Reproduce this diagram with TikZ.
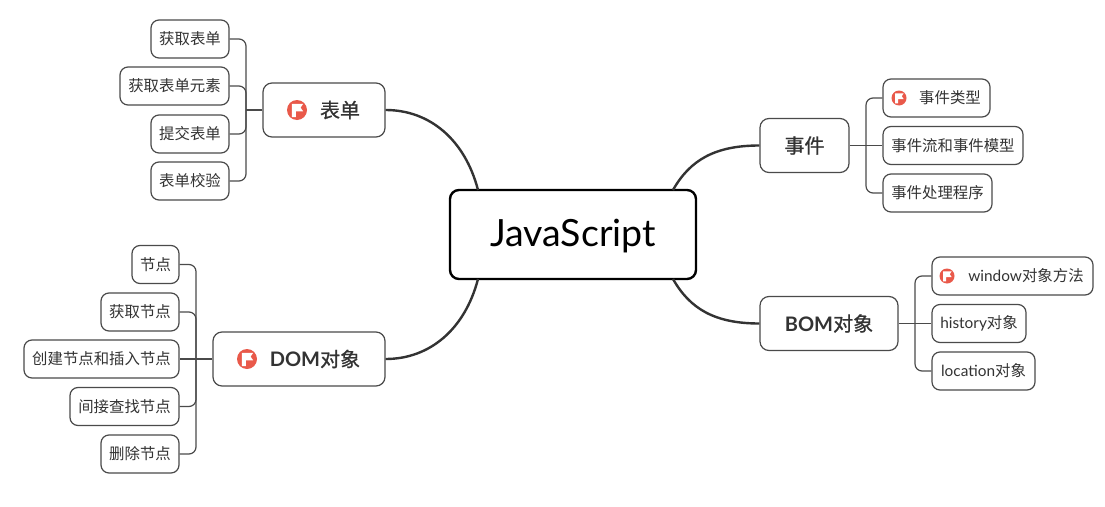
\documentclass[tikz,border=0pt]{standalone}
\usepackage{fontspec}
\setmainfont{Lato}
\newfontfamily\cjk{Noto Sans CJK SC}
\newfontfamily\cjkplain[RawFeature={embolden=0.9}]{Noto Sans CJK SC}
\newcommand{\cjkmain}{\mdseries\cjkplain}
\definecolor{inkgrey}{HTML}{333333}
\definecolor{edgegrey}{HTML}{4A4A4A}
\definecolor{flagred}{HTML}{E9594A}
\tikzset{
  rootbox/.style={draw=black,fill=white,line width=2.4pt,rounded corners=9pt,inner sep=0pt,
    text=black,text height=31pt,text depth=7pt,font=\fontsize{37.5}{42}\selectfont},
  mainbox/.style={draw=edgegrey,fill=white,line width=1.2pt,rounded corners=9pt,inner sep=0pt,
    minimum height=54pt,text=inkgrey,font=\fontsize{20}{24}\selectfont\bfseries},
  subbox/.style={draw=edgegrey,fill=white,line width=1.2pt,rounded corners=8pt,inner sep=0pt,
    minimum height=38pt,text=inkgrey,font=\fontsize{15.4}{18}\selectfont},
  bigcurve/.style={draw=inkgrey,line width=2.4pt},
  branch/.style={draw=edgegrey,line width=1.2pt,rounded corners=7pt},
  flagicon/.pic={
    \fill[flagred] (0,0) circle (1);
    \fill[white] (-0.52,0.72) -- (-0.52,-0.62) -- (0.62,-0.62) -- (0.36,-0.24) -- (0.62,0.14) -- (-0.12,0.14) -- (-0.12,0.72) -- cycle;
  }
}
\begin{document}
\begin{tikzpicture}[x=1pt,y=-1pt]
  \useasboundingbox[fill=white] (0,0) rectangle (1105,506);

  % centre
  \node[rootbox,minimum width=246pt,minimum height=89pt] (js) at (573,234.5) {JavaScript};
  \coordinate (jsnw) at (478,190);
  \coordinate (jsne) at (673,190);
  \coordinate (jssw) at (478,279);
  \coordinate (jsse) at (673,279);

  % main topics
  \node[mainbox,minimum width=122pt] (form) at (324,110) {\hspace*{32pt}{\cjkmain 表单}};
  \node[mainbox,minimum width=172pt] (dom)  at (299,359) {\hspace*{32pt}DOM{\cjkmain 对象}};
  \node[mainbox,minimum width=89pt]  (event) at (804.5,145.5) {{\cjkmain 事件}};
  \node[mainbox,minimum width=138pt] (bom)  at (829,323.5) {BOM{\cjkmain 对象}};

  \pic[scale=10] at (297,110) {flagicon};
  \pic[scale=10] at (247,359) {flagicon};

  % form items
  \node[subbox,minimum width=78pt]  (form1) at (190,39)    {\cjk 获取表单};
  \node[subbox,minimum width=109pt] (form2) at (174.5,86)  {\cjk 获取表单元素};
  \node[subbox,minimum width=78pt]  (form3) at (190,134)   {\cjk 提交表单};
  \node[subbox,minimum width=78pt]  (form4) at (190,181)   {\cjk 表单校验};

  % dom items
  \node[subbox,minimum width=47pt]  (dom1) at (155.5,264.5) {\cjk 节点};
  \node[subbox,minimum width=78pt]  (dom2) at (140,312)     {\cjk 获取节点};
  \node[subbox,minimum width=155pt] (dom3) at (101.5,359)   {\cjk 创建节点和插入节点};
  \node[subbox,minimum width=109pt] (dom4) at (124.5,406.5) {\cjk 间接查找节点};
  \node[subbox,minimum width=78pt]  (dom5) at (140,454)     {\cjk 删除节点};

  % event items
  \node[subbox,minimum width=107pt] (event1) at (936.5,98)  {\hspace*{27pt}{\cjk 事件类型}};
  \node[subbox,minimum width=140pt] (event2) at (953,145.5) {\cjk 事件流和事件模型};
  \node[subbox,minimum width=109pt] (event3) at (937.5,193) {\cjk 事件处理程序};
  \pic[scale=7.5] at (899,98) {flagicon};

  % bom items
  \node[subbox,minimum width=161pt] (bom1) at (1012.5,276) {\hspace*{27pt}window{\cjk 对象方法}};
  \node[subbox,minimum width=94pt]  (bom2) at (979,323.5)  {history{\cjk 对象}};
  \node[subbox,minimum width=103pt] (bom3) at (983.5,371)  {location{\cjk 对象}};
  \pic[scale=7.5] at (947,276) {flagicon};

  % curves to the centre
  \draw[bigcurve] (form.east)  .. controls (430,110) and (465,140) .. (jsnw);
  \draw[bigcurve] (dom.east)   .. controls (430,359) and (465,329) .. (jssw);
  \draw[bigcurve] (event.west) .. controls (715,145.5) and (690,160) .. (jsne);
  \draw[bigcurve] (bom.west)   .. controls (715,323.5) and (690,309) .. (jsse);

  % trunks
  \coordinate (formtrunk)  at (246,110);
  \coordinate (domtrunk)   at (196,359);
  \coordinate (eventtrunk) at (866,145.5);
  \coordinate (bomtrunk)   at (915,323.5);

  \draw[branch] (form.west) -- (formtrunk);
  \foreach \n in {1,2,3,4}
    \draw[branch] (formtrunk) |- (form\n.east);
  \foreach \n in {1,2,4,5}
    \draw[branch] (domtrunk) |- (dom\n.east);
  \draw[branch] (dom.west) -- (dom3.east);
  \draw[branch] (eventtrunk) |- (event1.west);
  \draw[branch] (event.east) -- (event2.west);
  \draw[branch] (eventtrunk) |- (event3.west);
  \draw[branch] (bomtrunk) |- (bom1.west);
  \draw[branch] (bom.east) -- (bom2.west);
  \draw[branch] (bomtrunk) |- (bom3.west);
\end{tikzpicture}
\end{document}
